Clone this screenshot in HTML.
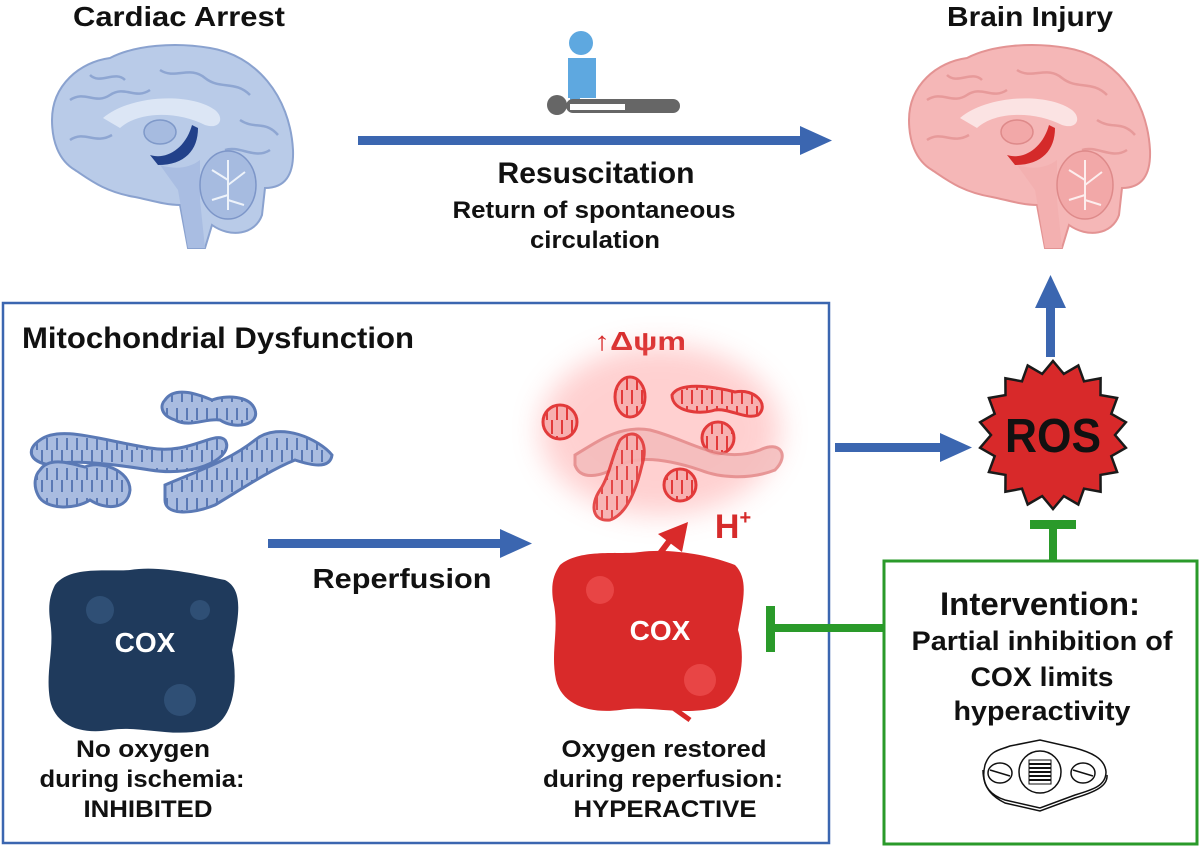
<!DOCTYPE html>
<html><head><meta charset="utf-8"><style>
html,body{margin:0;padding:0;background:#fff}
svg{display:block}
text{font-family:"Liberation Sans",sans-serif;font-weight:bold;text-anchor:middle;fill:#111}
</style></head><body>
<svg width="1200" height="847" viewBox="0 0 1200 847" xmlns="http://www.w3.org/2000/svg">
<defs>
<filter id="glow" x="-50%" y="-50%" width="200%" height="200%"><feGaussianBlur stdDeviation="14"/></filter>
<pattern id="cristaeB" width="10" height="30" patternUnits="userSpaceOnUse"><rect width="10" height="30" fill="#a9bce0"/><path d="M2 0 V12 M7 30 V18" stroke="#5a79b5" stroke-width="2"/></pattern>
<pattern id="cristaeR" width="10" height="30" patternUnits="userSpaceOnUse"><rect width="10" height="30" fill="#f7b0b0"/><path d="M2 0 V14 M7 30 V16" stroke="#e23a3a" stroke-width="2"/></pattern>
</defs>

<!-- Titles -->
<text x="179" y="26" font-size="28" textLength="212" lengthAdjust="spacingAndGlyphs">Cardiac Arrest</text>
<text x="1030" y="26" font-size="28" textLength="166" lengthAdjust="spacingAndGlyphs">Brain Injury</text>

<!-- Left brain -->
<g id="lb">
<path d="M52 120 C52 85 80 62 110 58 C135 45 175 42 210 48 C255 55 290 95 293 150 C294 175 285 188 265 188 L262 215 C255 235 230 238 212 225 L205 248 L188 248 L180 205 C165 205 150 200 135 197 C105 192 90 180 75 170 C58 160 52 140 52 120 Z" fill="#b9cbe8" stroke="#8aa2cf" stroke-width="2"/>
<g stroke="#8ea6d2" stroke-width="2.5" fill="none">
<path d="M70 100 C85 90 95 105 110 95 C125 85 135 100 150 90 M160 70 C175 80 190 65 205 78 C220 90 235 80 250 95 M70 140 C85 130 95 145 112 135 M240 120 C255 130 265 120 278 135 M90 75 C100 85 115 70 125 80 M225 150 C240 145 255 160 270 150"/>
</g>
<path d="M103 118 C130 95 190 92 215 110 C225 118 220 130 205 125 C180 112 140 110 120 128 Z" fill="#dce6f5"/>
<ellipse cx="160" cy="132" rx="16" ry="12" fill="#a6bbe0" stroke="#7f99c9" stroke-width="1.5"/>
<path d="M150 155 C165 160 185 150 192 125 L198 128 C198 150 185 165 158 165 Z" fill="#22418a"/>
<path d="M160 165 C175 170 190 168 200 160 L200 200 L205 248 L188 248 L178 190 Z" fill="#a9bde2"/>
<ellipse cx="228" cy="185" rx="28" ry="34" fill="#a6bbe0" stroke="#7d96c8" stroke-width="1.5"/>
<path d="M228 160 V210 M228 180 L212 170 M228 185 L245 172 M228 195 L212 200 M228 200 L244 205" stroke="#eef3fa" stroke-width="2" fill="none"/>
</g>
<!-- Right brain -->
<g transform="translate(857,0)">
<path d="M52 120 C52 85 80 62 110 58 C135 45 175 42 210 48 C255 55 290 95 293 150 C294 175 285 188 265 188 L262 215 C255 235 230 238 212 225 L205 248 L188 248 L180 205 C165 205 150 200 135 197 C105 192 90 180 75 170 C58 160 52 140 52 120 Z" fill="#f5b7b7" stroke="#e39393" stroke-width="2"/>
<g stroke="#e79a9a" stroke-width="2.5" fill="none">
<path d="M70 100 C85 90 95 105 110 95 C125 85 135 100 150 90 M160 70 C175 80 190 65 205 78 C220 90 235 80 250 95 M70 140 C85 130 95 145 112 135 M240 120 C255 130 265 120 278 135 M90 75 C100 85 115 70 125 80 M225 150 C240 145 255 160 270 150"/>
</g>
<path d="M103 118 C130 95 190 92 215 110 C225 118 220 130 205 125 C180 112 140 110 120 128 Z" fill="#fbe3e3"/>
<ellipse cx="160" cy="132" rx="16" ry="12" fill="#f2a8a8" stroke="#de8a8a" stroke-width="1.5"/>
<path d="M150 155 C165 160 185 150 192 125 L198 128 C198 150 185 165 158 165 Z" fill="#d42a2a"/>
<path d="M160 165 C175 170 190 168 200 160 L200 200 L205 248 L188 248 L178 190 Z" fill="#f3b0b0"/>
<ellipse cx="228" cy="185" rx="28" ry="34" fill="#f2a8a8" stroke="#de8a8a" stroke-width="1.5"/>
<path d="M228 160 V210 M228 180 L212 170 M228 185 L245 172 M228 195 L212 200 M228 200 L244 205" stroke="#fdeeee" stroke-width="2" fill="none"/>
</g>

<!-- Person CPR -->
<g>
<circle cx="581" cy="43" r="12" fill="#5ea8e0"/>
<path d="M568 58 H596 V98 H568 Z" fill="#5ea8e0"/>
<rect x="570" y="96" width="10" height="10" fill="#5ea8e0"/>
<circle cx="557" cy="105" r="10" fill="#666"/>
<rect x="566" y="99" width="114" height="14" rx="7" fill="#666"/>
<rect x="570" y="104" width="55" height="6" fill="#fff"/>
</g>

<!-- Resuscitation arrow -->
<rect x="358" y="136" width="445" height="9" fill="#3b66b0"/>
<path d="M800 126 L832 140.5 L800 155 Z" fill="#3b66b0"/>
<text x="596" y="183" font-size="30" textLength="197" lengthAdjust="spacingAndGlyphs">Resuscitation</text>
<text x="594" y="218" font-size="24" textLength="283" lengthAdjust="spacingAndGlyphs">Return of spontaneous</text>
<text x="595" y="248" font-size="24" textLength="130" lengthAdjust="spacingAndGlyphs">circulation</text>

<!-- Up arrow -->
<rect x="1046" y="305" width="9" height="52" fill="#3b66b0"/>
<path d="M1035 308 L1050.5 275 L1066 308 Z" fill="#3b66b0"/>

<!-- Blue box -->
<rect x="3" y="303" width="826" height="540" fill="none" stroke="#3b66b0" stroke-width="2.5"/>
<text x="22" y="348" font-size="30" style="text-anchor:start" textLength="392" lengthAdjust="spacingAndGlyphs">Mitochondrial Dysfunction</text>
<text x="640" y="350" font-size="26" style="fill:#d62b2b" textLength="92" lengthAdjust="spacingAndGlyphs">↑Δψm</text>

<!-- Blue mitochondria -->
<g stroke="#5a79b5" stroke-width="3" fill="url(#cristaeB)">
<path d="M40 440 C60 425 100 440 150 448 C190 455 215 430 225 440 C235 455 200 478 150 470 C100 462 70 460 50 465 C30 462 25 450 40 440Z"/>
<path d="M165 400 C175 385 200 395 212 400 C225 395 250 395 255 410 C260 425 235 430 220 420 C205 418 190 428 175 420 C160 415 160 405 165 400Z"/>
<path d="M40 470 C50 455 75 465 85 467 C100 460 130 470 130 490 C128 510 105 510 90 500 C75 510 45 510 38 495 C33 485 35 475 40 470Z"/>
<path d="M165 485 C200 470 230 460 255 440 C280 420 320 440 332 455 C330 470 310 465 295 460 C270 470 240 490 215 505 C190 515 165 515 165 500Z"/>
</g>

<!-- Red mitochondria -->
<ellipse cx="660" cy="430" rx="120" ry="85" fill="#ff7a7a" opacity="0.35" filter="url(#glow)"/>
<g stroke="#e23a3a" stroke-width="3" fill="url(#cristaeR)">
<circle cx="560" cy="422" r="17"/>
<ellipse cx="630" cy="397" rx="15" ry="20"/>
<path d="M672 395 C680 380 720 388 735 392 C755 388 770 405 758 415 C745 420 730 408 715 410 C700 415 672 412 672 395Z"/>
<circle cx="718" cy="438" r="16"/>
<circle cx="680" cy="485" r="16"/>
</g>
<path d="M575 455 C600 440 620 425 650 430 C690 440 720 465 760 450 C780 440 790 455 775 470 C750 480 720 478 700 470 C670 460 640 455 620 465 C600 478 580 480 575 465Z" fill="#f4bcbc" stroke="#e38888" stroke-width="3" opacity="0.85"/>
<path d="M620 440 C635 425 650 440 642 465 C635 495 625 515 610 520 C592 522 590 505 600 490 C610 475 612 455 620 440Z" fill="url(#cristaeR)" stroke="#e23a3a" stroke-width="3" opacity="0.9"/>

<!-- Reperfusion arrow -->
<rect x="268" y="539" width="235" height="9" fill="#3b66b0"/>
<path d="M500 529 L532 543.5 L500 558 Z" fill="#3b66b0"/>
<text x="402" y="588" font-size="28" textLength="179" lengthAdjust="spacingAndGlyphs">Reperfusion</text>

<!-- Left COX -->
<path d="M55 585 C70 565 110 572 130 570 C160 565 200 575 225 580 C245 590 238 620 232 650 C240 690 230 725 205 730 C170 738 140 725 110 730 C80 735 55 725 50 700 C45 670 55 650 50 620 C48 605 50 595 55 585Z" fill="#1f3a5c"/>
<circle cx="100" cy="610" r="14" fill="#2f4f75"/><circle cx="180" cy="700" r="16" fill="#2f4f75"/><circle cx="200" cy="610" r="10" fill="#2f4f75"/>
<text x="145" y="652" font-size="28" style="fill:#fff">COX</text>
<text x="143" y="757" font-size="24" textLength="134" lengthAdjust="spacingAndGlyphs">No oxygen</text>
<text x="142" y="787" font-size="24" textLength="205" lengthAdjust="spacingAndGlyphs">during ischemia:</text>
<text x="148" y="817" font-size="24" textLength="129" lengthAdjust="spacingAndGlyphs">INHIBITED</text>

<!-- Red COX -->
<path d="M560 565 C580 548 620 555 640 552 C670 548 710 555 735 565 C750 580 742 605 738 630 C748 665 738 700 715 708 C680 716 650 705 620 710 C590 714 562 705 556 680 C550 650 560 630 553 600 C551 585 553 575 560 565Z" fill="#d92a2a"/>
<circle cx="600" cy="590" r="14" fill="#e84545"/><circle cx="700" cy="680" r="16" fill="#e84545"/>
<line x1="662" y1="700" x2="690" y2="720" stroke="#d92a2a" stroke-width="5"/>
<line x1="640" y1="580" x2="670" y2="540" stroke="#d92a2a" stroke-width="6"/>
<path d="M658 534 L688 522 L682 552 Z" fill="#d92a2a"/>
<text x="660" y="640" font-size="28" style="fill:#fff">COX</text>
<text x="733" y="538" font-size="34" style="fill:#d62b2b">H<tspan font-size="20" dy="-14">+</tspan></text>
<text x="664" y="757" font-size="24" textLength="205" lengthAdjust="spacingAndGlyphs">Oxygen restored</text>
<text x="663" y="787" font-size="24" textLength="240" lengthAdjust="spacingAndGlyphs">during reperfusion:</text>
<text x="665" y="817" font-size="24" textLength="183" lengthAdjust="spacingAndGlyphs">HYPERACTIVE</text>

<!-- Arrow to ROS -->
<rect x="835" y="443" width="110" height="9" fill="#3b66b0"/>
<path d="M940 433 L972 447.5 L940 462 Z" fill="#3b66b0"/>

<!-- ROS star -->
<polygon id="star" fill="#d8292a" stroke="#1a1a1a" stroke-width="2.5" points=""/>
<script>
(function(){var cx=1053,cy=435,R=74,r=62,n=18,p=[];for(var i=0;i<2*n;i++){var a=Math.PI*i/n-Math.PI/2,rad=i%2?r:R;p.push((cx+rad*Math.cos(a)).toFixed(1)+','+(cy+rad*Math.sin(a)).toFixed(1));}document.getElementById('star').setAttribute('points',p.join(' '));})();
</script>
<text x="1053" y="452" font-size="48" textLength="96" lengthAdjust="spacingAndGlyphs">ROS</text>

<!-- Green inhibitions -->
<rect x="1049" y="525" width="8" height="36" fill="#2a9a2a"/>
<rect x="1030" y="520" width="46" height="9" fill="#2a9a2a"/>
<rect x="770" y="624" width="114" height="8" fill="#2a9a2a"/>
<rect x="766" y="606" width="9" height="46" fill="#2a9a2a"/>

<!-- Green box -->
<rect x="884" y="561" width="313" height="283" fill="none" stroke="#2a9a2a" stroke-width="3"/>
<text x="1040" y="615" font-size="32" textLength="200" lengthAdjust="spacingAndGlyphs">Intervention:</text>
<text x="1042" y="650" font-size="27" textLength="261" lengthAdjust="spacingAndGlyphs">Partial inhibition of</text>
<text x="1042" y="686" font-size="27" textLength="143" lengthAdjust="spacingAndGlyphs">COX limits</text>
<text x="1042" y="720" font-size="27" textLength="177" lengthAdjust="spacingAndGlyphs">hyperactivity</text>

<!-- Device -->
<g fill="none" stroke="#111" stroke-width="1.5">
<path d="M985 765 C990 750 1000 750 1010 746 L1040 740 L1075 748 C1090 752 1105 758 1106 772 C1106 786 1092 790 1075 795 L1040 808 L1005 800 C990 795 980 785 985 765Z" fill="#fff"/>
<path d="M983 770 C983 790 995 798 1005 803 L1040 811 L1075 798 C1095 792 1108 786 1107 775"/>
<ellipse cx="1000" cy="773" rx="12" ry="10"/><line x1="990" y1="770" x2="1010" y2="776"/>
<ellipse cx="1083" cy="773" rx="12" ry="10"/><line x1="1073" y1="770" x2="1093" y2="776"/>
<circle cx="1040" cy="772" r="21"/>
<rect x="1029" y="760" width="22" height="24" stroke-width="1"/>
<path d="M1029 764 H1051 M1029 768 H1051 M1029 772 H1051 M1029 776 H1051 M1029 780 H1051" stroke-width="2"/>
</g>
</svg>
</body></html>
